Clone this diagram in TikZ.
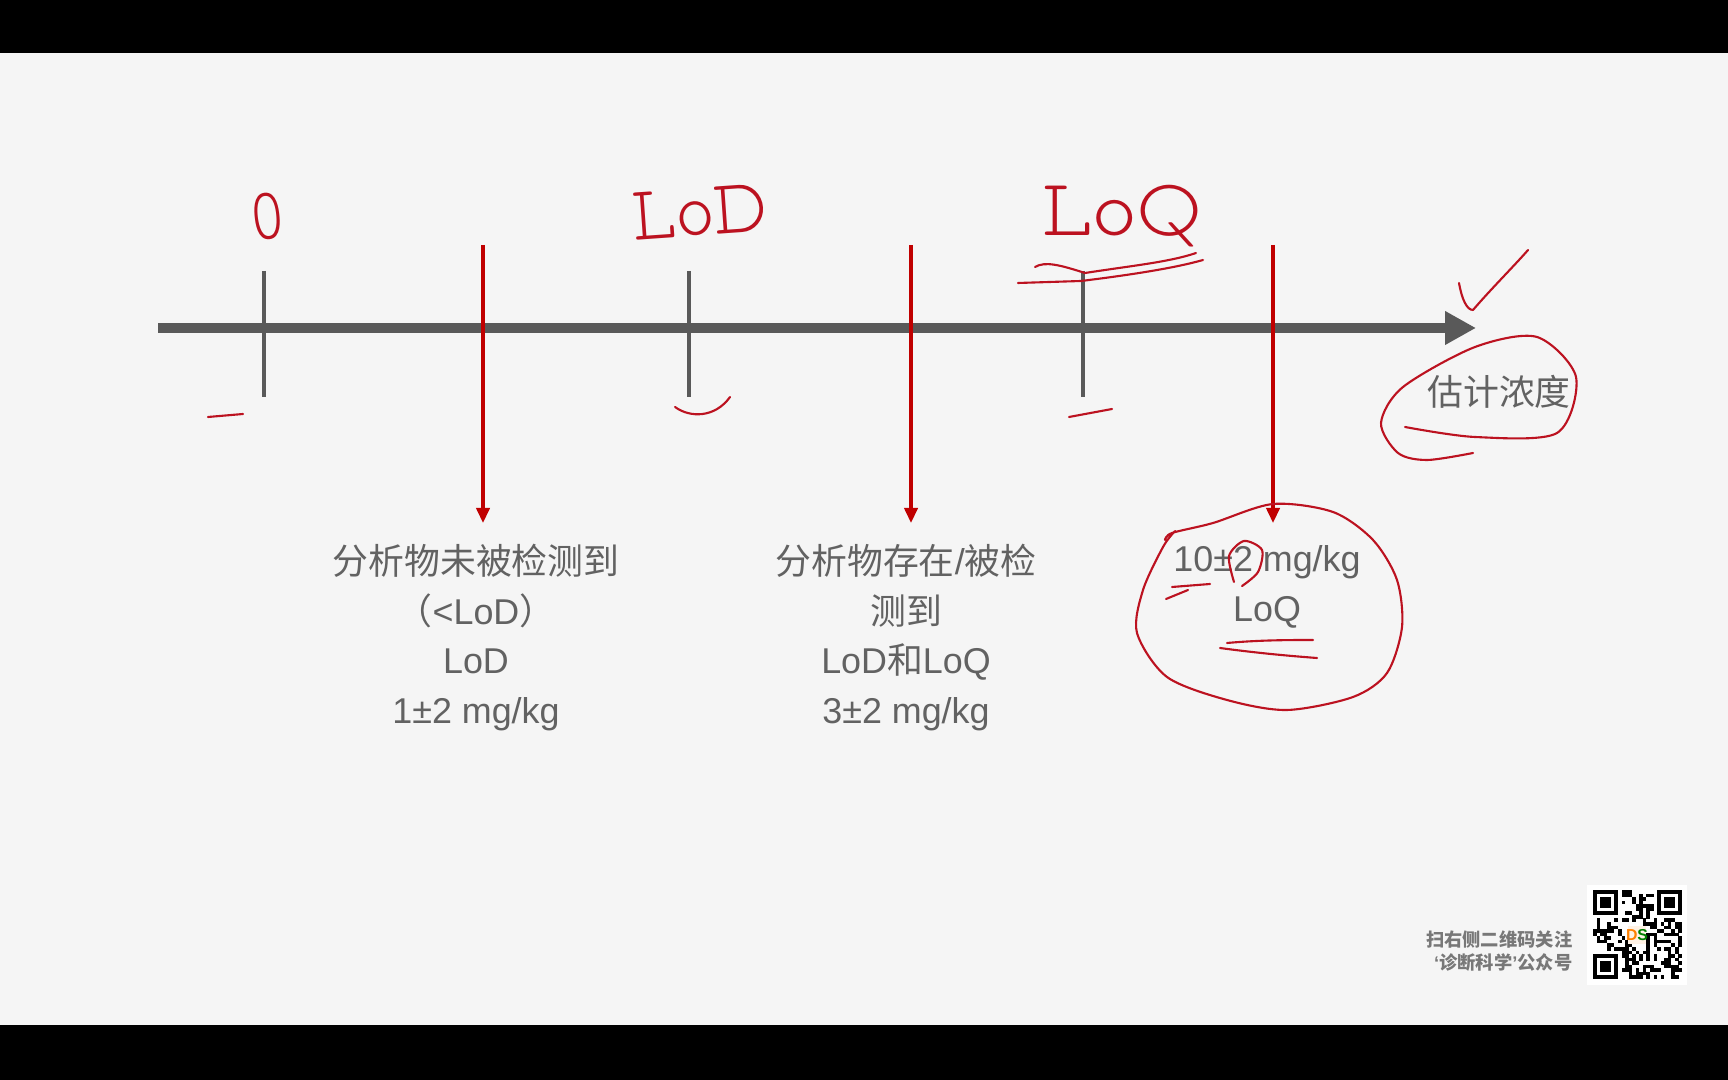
\documentclass[tikz,border=0pt]{standalone}
\usepackage{fontspec}
\setmainfont{Liberation Sans}
\newfontfamily\cjk{Noto Sans CJK SC}
\newfontfamily\penfont{lmmonoproplt10-regular.otf}
\usetikzlibrary{arrows.meta,calc,positioning}
\definecolor{slidebg}{RGB}{245,245,245}
\definecolor{axisgray}{RGB}{89,89,89}
\definecolor{textgray}{RGB}{98,98,98}
\definecolor{arrowred}{RGB}{192,0,0}
\definecolor{penred}{RGB}{188,18,32}
\definecolor{creditgray}{RGB}{120,120,120}

\begin{document}
\begin{tikzpicture}[x=0.01cm,y=-0.01cm,
  axisline/.style={axisgray,line width=2.9pt},
  tickline/.style={axisgray,line width=1.2pt},
  marker/.style={arrowred,line width=0.9pt,-{Triangle[length=4.3pt,width=3.8pt]}},
  label/.style={textgray,font=\fontsize{10.2}{14.2}\selectfont,align=center,inner sep=0pt},
  credit/.style={creditgray,font=\bfseries\fontsize{5.2}{6}\selectfont,inner sep=0pt},
  pen/.style={penred,line width=0.6pt,line cap=round,line join=round},
  penword/.style={penred,inner sep=0pt}]
% tło slajdu i czarne pasy
\fill[slidebg] (0,0) rectangle (1728,1080);
\fill[black] (0,0) rectangle (1728,53);
\fill[black] (0,1025) rectangle (1728,1080);
\useasboundingbox (0,0) rectangle (1728,1080);
% oś stężenia
\coordinate (start) at (158,328);
\coordinate (end) at (1476,328);
\draw[axisline,-{Triangle[length=8.8pt,width=9pt]}] (start) -- (end);
\foreach \x in {264,689,1083}
  \draw[tickline] (\x,271) -- (\x,397);
% czerwone strzałki
\foreach \x/\n in {483/a,911/b,1273/c}{
  \coordinate (\n top) at (\x,245);
  \coordinate (\n tip) at (\x,523);
  \draw[marker] (\n top) -- (\n tip);
}
% opisy
\node[label,anchor=north] (undetected) at (476,543)
  {{\cjk 分析物未被检测到}\\{\cjk （}<LoD{\cjk ）}\\LoD\\1±2 mg/kg};
\node[label,anchor=north] (detected) at (906,543)
  {{\cjk 分析物存在}/{\cjk 被检}\\{\cjk 测到}\\LoD{\cjk 和}LoQ\\3±2 mg/kg};
\node[label,anchor=north] (quantified) at (1267,545) {10±2 mg/kg\\LoQ};
\node[label] (estimate) at (1499,392) {\cjk 估计浓度};
% odręczne dopiski
\node[penword,rotate=6] (zero) at (268,216)
  {\penfont\fontsize{21}{21}\selectfont\scalebox{0.8}[1]{0}};
\node[penword,rotate=4] (lodhand) at (700,212)
  {\penfont\fontsize{22}{22}\selectfont\scalebox{0.9}[1]{LoD}};
\node[penword] (loqhand) at (1122,216)
  {\penfont\fontsize{23}{23}\selectfont LoQ};
\draw[pen] (208,417) -- (243,414);
\draw[pen] (675,407) .. controls (690,418) and (715,418) .. (730,397);
\draw[pen] (1069,417) -- (1112,409);
\draw[pen] (1035,267) .. controls (1045,261) and (1060,265) .. (1085,273)
  .. controls (1130,266) and (1170,262) .. (1196,253);
\draw[pen] (1018,283) -- (1081,281) .. controls (1130,275) and (1175,268) .. (1203,260);
\draw[pen] (1459,283) .. controls (1462,300) and (1467,310) .. (1473,310)
  .. controls (1490,290) and (1515,265) .. (1528,250);
\draw[pen] plot[smooth] coordinates {(1405,427) (1475,437) (1557,433) (1576,377)
  (1537,337) (1475,347) (1403,387) (1381,423) (1398,453) (1427,460) (1473,453)};
\draw[pen] plot[smooth] coordinates {(1165,540) (1172,533) (1213,523) (1273,504)
  (1333,512) (1373,540) (1397,580) (1402,627) (1387,673) (1353,697) (1287,710)
  (1227,700) (1167,677) (1137,633) (1143,590) (1163,547) (1175,531)};
\draw[pen] plot[smooth] coordinates {(1234,582) (1229,556) (1244,541) (1262,550)
  (1258,572) (1242,586)};
\draw[pen] (1172,587) -- (1210,584);
\draw[pen] (1166,599) -- (1188,590);
\draw[pen] (1227,643) .. controls (1260,640) and (1290,640) .. (1313,640);
\draw[pen] (1220,648) .. controls (1257,653) and (1290,656) .. (1317,658);
% kod QR i podpis
\node[credit,anchor=east] (scan) at (1573,940) {\cjk 扫右侧二维码关注};
\node[credit,anchor=east] (account) at (1573,963) {‘{\cjk 诊断科学}’{\cjk 公众号}};
\fill[white] (1587,885) rectangle (1687,985);
\pgfmathsetseed{42}
\foreach \i in {0,...,24}
  \foreach \j in {0,...,24}{
    \pgfmathtruncatemacro\qrfree{((\i<8)&&(\j<8))||((\i>16)&&(\j<8))||((\i<8)&&(\j>16))||((\i>9)&&(\i<15)&&(\j>9)&&(\j<15)) ? 0 : 1}
    \pgfmathtruncatemacro\qrdot{rnd<0.5 ? 1 : 0}
    \ifnum\qrfree\qrdot=11
      \fill[black] ({1593+3.56*\i},{890+3.56*\j}) rectangle ++(3.6,3.6);
    \fi
  }
\foreach \ox/\oy in {1593/890,1657/890,1593/954}{
  \fill[black] (\ox,\oy) rectangle ++(25,25);
  \fill[white] (\ox+3.6,\oy+3.6) rectangle ++(17.8,17.8);
  \fill[black] (\ox+7.1,\oy+7.1) rectangle ++(10.7,10.7);
}
\fill[white!90!orange] (1628,926) rectangle (1646,944);
\node[font=\bfseries\fontsize{4.5}{5}\selectfont,inner sep=0pt] (logo) at (1637,935)
  {\textcolor{orange}{D}\textcolor{green!50!black}{S}};
\end{tikzpicture}
\end{document}
